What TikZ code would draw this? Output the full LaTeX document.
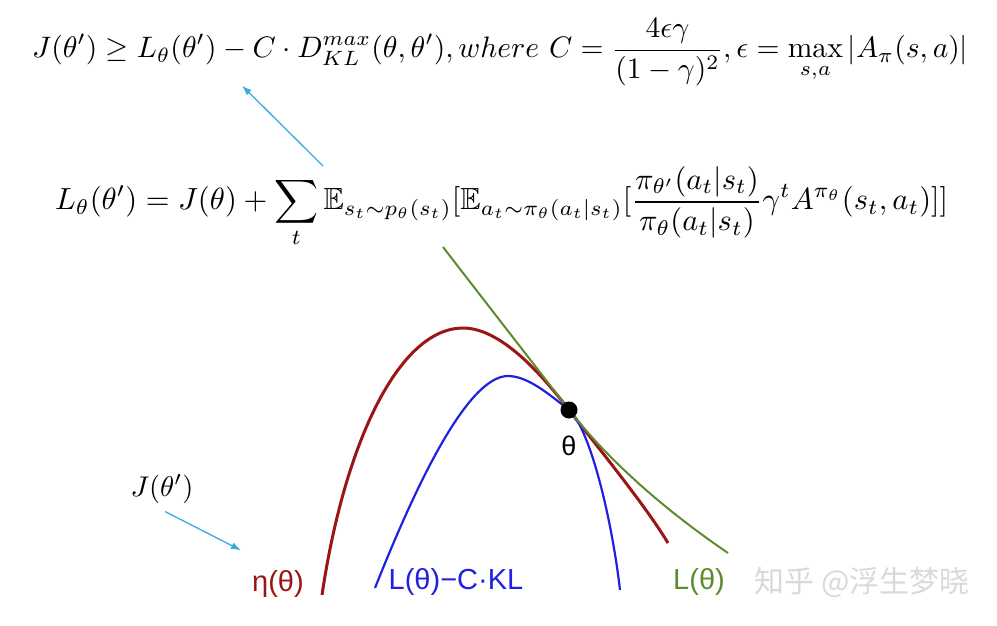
\documentclass[tikz,border=0pt]{standalone}
\usepackage{amssymb}
\usepackage{fontspec}
\usetikzlibrary{arrows.meta}
\newfontfamily\labelfont{Liberation Sans}
\newfontfamily\cjkfont{Noto Sans CJK SC}
\definecolor{pointerblue}{HTML}{3AA9E0}
\definecolor{etared}{HTML}{9B1515}
\definecolor{klblue}{HTML}{2020E0}
\definecolor{lgreen}{HTML}{5C8C2E}
\tikzset{
  pointer/.style = {draw = pointerblue, line width = 1.3pt, -{Latex[length = 10pt, width = 7pt]}},
  curvelabel/.style = {font = \labelfont\fontsize{29}{34}\selectfont, inner sep = 0pt},
  formula/.style = {inner sep = 0pt}
}
\begin{document}
\begin{tikzpicture}[x = 1pt, y = -1pt]
\useasboundingbox (0,0) rectangle (997,625);
\node[formula, anchor = west] (bound) at (32,52) {\resizebox{936pt}{!}{$\displaystyle J(\theta')\geq L_\theta(\theta')-C\cdot D_{KL}^{max}(\theta,\theta'),where\ C=\frac{4\epsilon\gamma}{(1-\gamma)^2},\epsilon=\max_{s,a}|A_\pi(s,a)|$}};
\node[formula, anchor = west] (surrogate) at (55,207) {\resizebox{893pt}{!}{$\displaystyle L_\theta(\theta')=J(\theta)+\sum_t\mathbb{E}_{s_t\sim p_\theta(s_t)}[\mathbb{E}_{a_t\sim\pi_\theta(a_t|s_t)}[\frac{\pi_{\theta'}(a_t|s_t)}{\pi_\theta(a_t|s_t)}\gamma^tA^{\pi_\theta}(s_t,a_t)]]$}};
\node[formula] (jlabel) at (162,489) {\resizebox{63pt}{!}{$J(\theta')$}};
\draw[color = etared, line width = 3pt] (322,595) .. controls (345,440) and (400,328) .. (463,328) .. controls (500,328) and (540,372) .. (569,410) .. controls (600,450) and (645,505) .. (668,543);
\draw[color = klblue, line width = 2.2pt] (375,588) .. controls (410,500) and (465,376) .. (508,376) .. controls (528,376) and (550,395) .. (569,410) .. controls (590,428) and (612,520) .. (620,590);
\draw[color = lgreen, line width = 2pt] (443,247) .. controls (490,308) and (540,372) .. (569,410) .. controls (610,462) and (665,510) .. (728,553);
\node[circle, fill = black, inner sep = 0pt, minimum size = 17pt] (point) at (569,410) {};
\node[curvelabel, font = \labelfont\fontsize{27}{32}\selectfont] (thetalabel) at (569,446) {θ};
\node[curvelabel, text = etared] (eta) at (278,584) {η(θ)};
\node[curvelabel, text = klblue] (lowerbound) at (456,582) {L(θ)−C·KL};
\node[curvelabel, text = lgreen] (ltheta) at (699,582) {L(θ)};
\node[font = \cjkfont\fontsize{30}{36}\selectfont, text = gray!30, inner sep = 0pt] (mark) at (862,582) {知乎 @浮生梦晓};
\draw[pointer] ([xshift = 268pt]surrogate.north west) -- ([xshift = 210pt]bound.south west);
\draw[pointer] ([xshift = 3pt, yshift = -8pt]jlabel.south) -- ([xshift = -11pt, yshift = 20pt]eta.north west);
\end{tikzpicture}
\end{document}
